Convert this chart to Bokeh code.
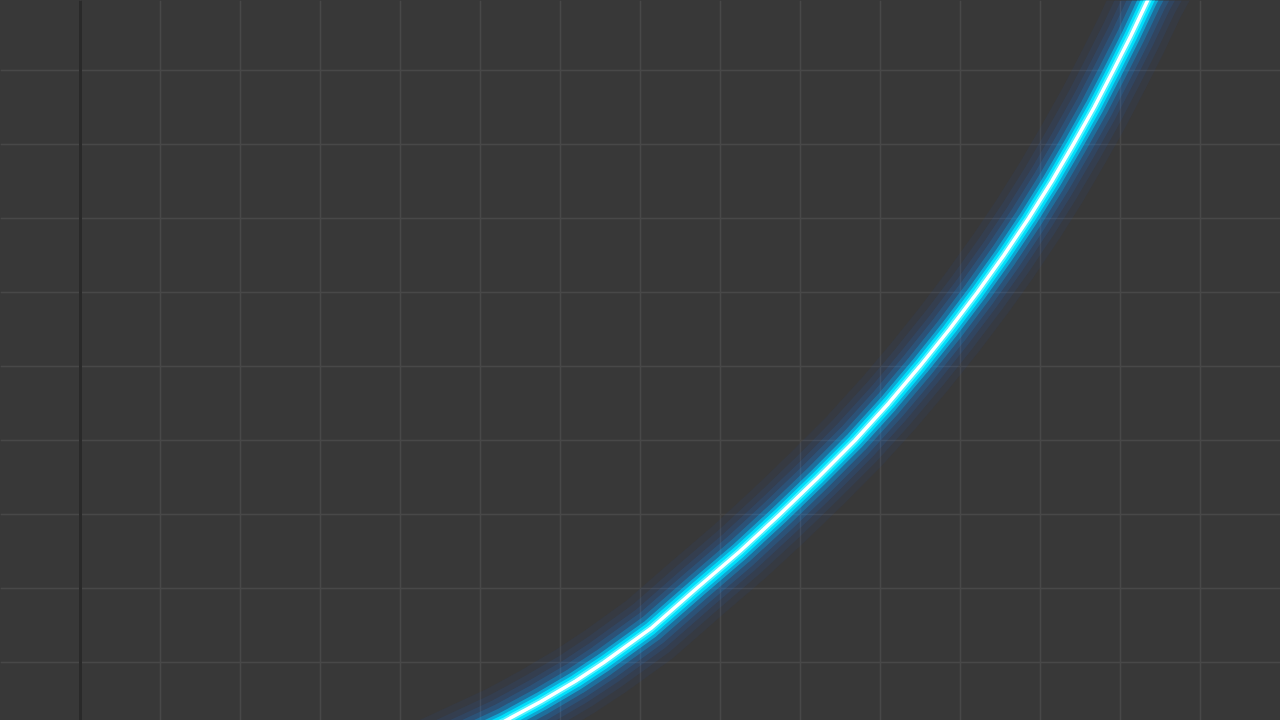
from bokeh.plotting import figure
from bokeh.models import Range1d, SingleIntervalTicker, Span
from bokeh.embed import file_html
from bokeh.resources import INLINE

# Curve values
curve_x = [5.375, 6.29, 6.75, 7.19, 7.54, 8.13, 8.70, 9.24, 9.74, 10.22, 10.68, 11.1, 11.49,
           11.86, 12.21, 12.54, 12.85, 13.14, 13.41, 13.67, 13.91, 14.13, 14.34, 14.75]
curve_y = [-0.26, 0.2, 0.47, 0.75, 1.0, 1.46, 2.0, 2.5, 3.0, 3.5, 4.0, 4.5, 5.0,
           5.5, 6.0, 6.5, 7.0, 7.5, 8.0, 8.5, 9.0, 9.47, 9.95, 10.76]

x_limits = [0.0, 16.0]
y_limits = [0.216, 9.946]
axis_x = 1.0

BG = "#383838"

p = figure(width=1280, height=720, output_backend="svg", toolbar_location=None,
           x_range=Range1d(*x_limits), y_range=Range1d(*y_limits),
           min_border=0, background_fill_color=BG, border_fill_color=BG)
p.outline_line_color = None
p.xaxis.visible = False
p.yaxis.visible = False
p.xgrid.ticker = SingleIntervalTicker(interval=1)
p.ygrid.ticker = SingleIntervalTicker(interval=1)
for g in (p.xgrid, p.ygrid):
    g.grid_line_color = "#484848"
    g.grid_line_width = 1.5

p.add_layout(Span(location=axis_x, dimension="height", line_color="#2a2a2a", line_width=3))

# Glow layers
layers = [
    (74, "#1060ff", 0.05),
    (60, "#1a7aff", 0.07),
    (48, "#1e8cff", 0.10),
    (38, "#12a2ff", 0.15),
    (28, "#00baff", 0.28),
    (19, "#00d4ff", 0.55),
    (13, "#00e6ff", 0.9),
    (7.5, "#50f2ff", 1.0),
    (3.5, "#ffffff", 1.0),
]
for w, c, a in layers:
    p.line(curve_x, curve_y, line_width=w, line_color=c, line_alpha=a,
           line_cap="round", line_join="round")

html = file_html(p, INLINE)
html = html.replace("<head>", "<head><style>body{background:#383838;}</style>", 1)
open("out.html", "w").write(html)
